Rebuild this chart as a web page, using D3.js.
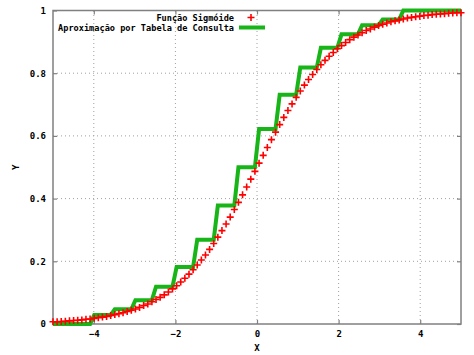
<!DOCTYPE html>
<meta charset="utf-8">
<script src="https://cdn.jsdelivr.net/npm/d3@7"></script>
<style>
body { margin: 0; background: #fff; }
svg text { font-family: "DejaVu Sans Mono", monospace; font-weight: bold; font-size: 9px; fill: #000; }
svg .legend text { font-size: 8.6px; }
</style>
<div id="chart"></div>
<script>
// sample positions (gnuplot default: 100 samples over [-5,5])
var xs = [-5.000,-4.899,-4.798,-4.697,-4.596,-4.495,-4.394,-4.293,-4.192,-4.091,
          -3.990,-3.889,-3.788,-3.687,-3.586,-3.485,-3.384,-3.283,-3.182,-3.081,
          -2.980,-2.879,-2.778,-2.677,-2.576,-2.475,-2.374,-2.273,-2.172,-2.071,
          -1.970,-1.869,-1.768,-1.667,-1.566,-1.465,-1.364,-1.263,-1.162,-1.061,
          -0.960,-0.859,-0.758,-0.657,-0.556,-0.455,-0.354,-0.253,-0.152,-0.051,
           0.051, 0.152, 0.253, 0.354, 0.455, 0.556, 0.657, 0.758, 0.859, 0.960,
           1.061, 1.162, 1.263, 1.364, 1.465, 1.566, 1.667, 1.768, 1.869, 1.970,
           2.071, 2.172, 2.273, 2.374, 2.475, 2.576, 2.677, 2.778, 2.879, 2.980,
           3.081, 3.182, 3.283, 3.384, 3.485, 3.586, 3.687, 3.788, 3.889, 3.990,
           4.091, 4.192, 4.293, 4.394, 4.495, 4.596, 4.697, 4.798, 4.899, 5.000];

// sigmoid values read at each sample
var sigmoidY = [0.007,0.007,0.008,0.009,0.010,0.011,0.012,0.013,0.015,0.016,
                0.018,0.020,0.022,0.024,0.027,0.030,0.033,0.036,0.040,0.044,
                0.048,0.053,0.059,0.064,0.071,0.078,0.085,0.093,0.102,0.112,
                0.122,0.134,0.146,0.159,0.173,0.188,0.204,0.220,0.238,0.257,
                0.277,0.298,0.319,0.341,0.365,0.388,0.412,0.437,0.462,0.487,
                0.513,0.538,0.563,0.588,0.612,0.636,0.659,0.681,0.702,0.723,
                0.743,0.762,0.780,0.796,0.812,0.827,0.841,0.854,0.866,0.878,
                0.888,0.898,0.907,0.915,0.922,0.929,0.936,0.941,0.947,0.952,
                0.956,0.960,0.964,0.967,0.970,0.973,0.976,0.978,0.980,0.982,
                0.984,0.985,0.987,0.988,0.989,0.990,0.991,0.992,0.993,0.993];

// lookup table: breakpoints and level of each interval
var tableBreaks = [-4, -3.5, -3, -2.5, -2, -1.5, -1, -0.5, 0, 0.5, 1, 1.5, 2, 2.5, 3, 3.5];
var tableLevels = [0, 0.029, 0.047, 0.076, 0.119, 0.182, 0.269, 0.378, 0.5,
                   0.622, 0.731, 0.818, 0.881, 0.924, 0.953, 0.971, 1];

var xTicks = [-4, -2, 0, 2, 4];
var yTicks = [0, 0.2, 0.4, 0.6, 0.8, 1];
var yTickLabels = ["0", "0.2", "0.4", "0.6", "0.8", "1"];

var W = 474, H = 355;
var svg = d3.select("#chart").append("svg").attr("width", W).attr("height", H);

var x = d3.scaleLinear().domain([-5, 5]).range([53, 461]);
var y = d3.scaleLinear().domain([0, 1]).range([324, 10.5]);

var borderCol = "#808080";

// grid
svg.append("g").selectAll("line").data(xTicks.filter(function(d){ return d > -5 && d < 5; }))
  .enter().append("line")
  .attr("x1", function(d){ return x(d); }).attr("x2", function(d){ return x(d); })
  .attr("y1", y(0)).attr("y2", y(1))
  .attr("stroke", "#a0a0a0").attr("stroke-width", 1).attr("stroke-dasharray", "1,3");
svg.append("g").selectAll("line").data(yTicks.filter(function(d){ return d > 0 && d < 1; }))
  .enter().append("line")
  .attr("x1", x(-5)).attr("x2", x(5))
  .attr("y1", function(d){ return y(d); }).attr("y2", function(d){ return y(d); })
  .attr("stroke", "#a0a0a0").attr("stroke-width", 1).attr("stroke-dasharray", "1,3");

// axes (ticks inward, mirrored)
var ax = svg.append("g").attr("transform", "translate(0," + y(0) + ")")
  .call(d3.axisBottom(x).tickValues(xTicks).tickSizeInner(-4).tickSizeOuter(0).tickPadding(7).tickFormat(d3.format("d")));
var ay = svg.append("g").attr("transform", "translate(" + x(-5) + ",0)")
  .call(d3.axisLeft(y).tickValues(yTicks).tickSizeInner(-4).tickSizeOuter(0).tickPadding(7)
    .tickFormat(function(d, i){ return yTickLabels[i]; }));
var axTop = svg.append("g").attr("transform", "translate(0," + y(1) + ")")
  .call(d3.axisTop(x).tickValues(xTicks).tickSizeInner(-4).tickSizeOuter(0).tickFormat(""));
var ayRight = svg.append("g").attr("transform", "translate(" + x(5) + ",0)")
  .call(d3.axisRight(y).tickValues(yTicks).tickSizeInner(-4).tickSizeOuter(0).tickFormat(""));
[ax, ay, axTop, ayRight].forEach(function(g){
  g.select(".domain").remove();
  g.selectAll(".tick line").attr("stroke", borderCol).attr("stroke-width", 1.2);
  g.selectAll("text").attr("font-family", null).attr("font-size", null).attr("fill", null);
});

// border
svg.append("rect").attr("x", x(-5)).attr("y", y(1))
  .attr("width", x(5) - x(-5)).attr("height", y(0) - y(1))
  .attr("fill", "none").attr("stroke", borderCol).attr("stroke-width", 1.5);

// lookup-table approximation evaluated at the samples
var greenCol = "#17b517";
var approx = xs.map(function(v){ return [v, tableLevels[d3.bisectRight(tableBreaks, v)]]; });
svg.append("path").datum(approx)
  .attr("fill", "none").attr("stroke", greenCol).attr("stroke-width", 4)
  .attr("stroke-linejoin", "miter")
  .attr("d", d3.line().x(function(d){ return x(d[0]); }).y(function(d){ return y(d[1]); }));

// sigmoid markers
var plus = function(sel, cx, cy) {
  sel.append("path")
    .attr("d", "M" + (cx - 3.5) + "," + cy + "h7M" + cx + "," + (cy - 3.5) + "v7")
    .attr("stroke", "#ff0000").attr("stroke-width", 1.6);
};
var marks = svg.append("g");
xs.forEach(function(v, i){ plus(marks, x(v), y(sigmoidY[i])); });

// legend
var leg = svg.append("g").attr("class", "legend");
leg.append("text").attr("x", 234).attr("y", 20.5).attr("text-anchor", "end").text("Função Sigmóide");
plus(leg, 251, 17.5);
leg.append("text").attr("x", 234).attr("y", 30.5).attr("text-anchor", "end").text("Aproximação por Tabela de Consulta");
leg.append("line").attr("x1", 239).attr("x2", 265).attr("y1", 27.5).attr("y2", 27.5)
  .attr("stroke", greenCol).attr("stroke-width", 4);

// axis titles
svg.append("text").attr("x", x(0)).attr("y", 351).attr("text-anchor", "middle").text("X");
svg.append("text").attr("transform", "translate(19," + y(0.5) + ") rotate(-90)")
  .attr("text-anchor", "middle").text("Y");
</script>
